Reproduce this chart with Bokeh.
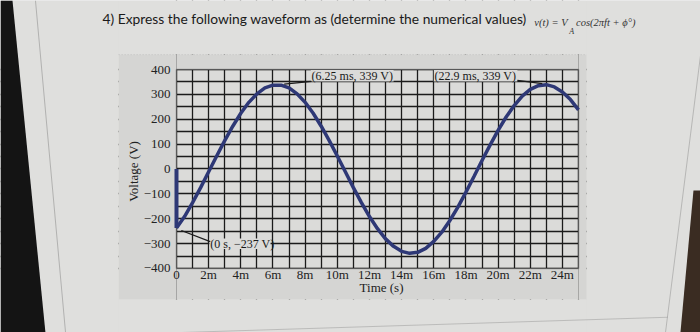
from bokeh.plotting import figure
from bokeh.models import Range1d, FixedTicker, Label, BoxAnnotation, PolyAnnotation, LinearAxis
from bokeh.embed import file_html
from bokeh.resources import INLINE

# ---- data ----
time_ms = [0, 0.5, 1, 1.5, 2, 2.5, 3, 3.5, 4, 4.5, 5, 5.5, 6, 6.5, 7, 7.5, 8, 8.5,
           9, 9.5, 10, 10.5, 11, 11.5, 12, 12.5, 13, 13.5, 14, 14.5, 15, 15.5, 16,
           16.5, 17, 17.5, 18, 18.5, 19, 19.5, 20, 20.5, 21, 21.5, 22, 22.5, 23,
           23.5, 24, 24.5, 25]
voltage = [-237, -191, -135, -75, -11, 52, 114, 172, 224, 268, 302, 326, 337, 337,
           326, 302, 268, 224, 172, 114, 52, -11, -75, -135, -191, -240, -281, -311,
           -331, -339, -335, -319, -291, -254, -207, -153, -93, -30, 34, 96, 155,
           209, 255, 293, 320, 335, 339, 330, 310, 279, 238]

y_ticks = [-400, -300, -200, -100, 0, 100, 200, 300, 400]
y_tick_labels = ["\u2212400", "\u2212300", "\u2212200", "\u2212100", "0", "100", "200", "300", "400"]
x_ticks = [0, 2, 4, 6, 8, 10, 12, 14, 16, 18, 20, 22, 24]
x_tick_labels = ["0", "2m", "4m", "6m", "8m", "10m", "12m", "14m", "16m", "18m", "20m", "22m", "24m"]
x_grid = list(range(0, 26))
y_grid = list(range(-400, 401, 50))

callout_texts = ["(6.25 ms, 339 V)", "(22.9 ms, 339 V)", "(0 s, \u2212237 V)"]
title_text = "4) Express the following waveform as (determine the numerical values)"

X0, X1 = 0, 25        # chart extent (ms)
Y0, Y1 = -400, 400    # chart extent (V)
XS, XE, YS, YE = -10.945, 32.587, -657.3, 677.4

# The whole canvas is the plotting frame; the chart occupies a sub-rectangle of it.
p = figure(width=700, height=332, x_range=Range1d(XS, XE), y_range=Range1d(YS, YE),
           output_backend="svg", toolbar_location=None, title=None,
           x_axis_location=None, y_axis_location=None,
           min_border_left=0, min_border_right=0, min_border_top=0, min_border_bottom=0)
p.outline_line_color = None

PAGE = "#dfdfdd"
PANEL = "#d5d5d3"
FRAME = "#dbdbd9"
p.border_fill_color = PAGE
p.background_fill_color = FRAME

# grid (library grid; lines outside the chart get covered below)
p.xgrid.ticker = FixedTicker(ticks=x_grid)
p.ygrid.ticker = FixedTicker(ticks=y_grid)
for g in (p.xgrid, p.ygrid):
    g.grid_line_color = "#1b1b1b"
    g.grid_line_width = 1.3
    g.grid_line_alpha = 1

def box(l, r, b, t, color, **kw):
    p.add_layout(BoxAnnotation(left=l, right=r, bottom=b, top=t, fill_color=color, fill_alpha=1,
                               line_color=None, level="underlay", **kw))

PL, PR, PB, PT = -3.6, 25.5, -525, 460   # figure panel of the photographed page
# panel ring around the chart
box(PL, X0, PB, PT, PANEL)
box(X1, PR, PB, PT, PANEL)
box(X0, X1, Y1, PT, PANEL)
box(X0, X1, PB, Y0, PANEL)
# page outside the panel
box(None, PL, None, None, PAGE)
box(PR, None, None, None, PAGE)
box(PL, PR, PT, None, PAGE)
box(PL, PR, None, PB, PAGE)
# dotted top edge of the panel
p.add_layout(PolyAnnotation(xs=[PL, PR], ys=[PT, PT], fill_alpha=0, line_color="#8f8f8f",
                            line_width=1, line_dash="1 2", level="underlay"))
# photo edges: dark strip on the left, thin page border lines, dark corner on the right
p.add_layout(PolyAnnotation(xs=[XS, -10.2, -8.15, XS], ys=[YE, YE, YS, YS],
                            fill_color="#141414", fill_alpha=1, line_color=None, level="underlay"))
p.add_layout(PolyAnnotation(xs=[-8.77, -6.90], ys=[YE, YS], fill_alpha=0,
                            line_color="#4a4a4a", line_width=1, level="underlay"))
p.add_layout(PolyAnnotation(xs=[33.02, 30.41], ys=[YE, YS], fill_alpha=0,
                            line_color="#5a5a5a", line_width=1, level="underlay"))
p.add_layout(PolyAnnotation(xs=[-6.90, 30.54], ys=[-672, -596], fill_alpha=0,
                            line_color="#6a6a6a", line_width=1, level="underlay"))
p.add_layout(PolyAnnotation(xs=[32.15, XE, XE, 31.34], ys=[-86, -86, YS, YS],
                            fill_color="#3a2c22", fill_alpha=1, line_color=None, level="underlay"))

# chart outline
p.add_layout(BoxAnnotation(left=X0, right=X1, bottom=Y0, top=Y1, fill_alpha=0,
                           line_color="#111111", line_width=1.6, level="underlay"))

# callout masks
for (l, r, b, t) in [(8.35, 13.5, 352, 398), (16.0, 21.2, 352, 398), (2.05, 5.85, -322, -279)]:
    box(l, r, b, t, FRAME)

# axes placed at the chart edges
yax = LinearAxis(fixed_location=X0, ticker=FixedTicker(ticks=y_ticks),
                 major_label_overrides=dict(zip(y_ticks, y_tick_labels)))
xax = LinearAxis(fixed_location=Y0, ticker=FixedTicker(ticks=x_ticks),
                 major_label_overrides=dict(zip(x_ticks, x_tick_labels)))
for ax in (xax, yax):
    ax.axis_line_color = None
    ax.major_tick_line_color = None
    ax.minor_tick_line_color = None
    ax.major_tick_out = 0
    ax.major_tick_in = 0
    ax.major_label_text_font = "Liberation Serif"
    ax.major_label_text_font_size = "13px"
    ax.major_label_text_color = "#222222"
yax.major_label_standoff = 6
xax.major_label_standoff = -1
p.add_layout(yax, "left")
p.add_layout(xax, "below")

# curve
p.segment(x0=time_ms[0], y0=0, x1=time_ms[0], y1=voltage[0], line_color="#2e3876", line_width=4)
p.line(time_ms, voltage, line_color="#2e3876", line_width=3.5)

# leader lines and callout texts
p.segment(x0=[6.7, 21.2, 0.3], y0=[341, 356, -247], x1=[8.4, 22.75, 2.1], y1=[352, 343, -292],
          line_color="#1b1b1b", line_width=1.2)
for (tx, ty), s in zip([(8.4, 374), (16.05, 374), (2.1, -300)], callout_texts):
    p.add_layout(Label(x=tx, y=ty, text=s, text_font="Liberation Serif", text_font_size="12px",
                       text_baseline="middle", text_align="left", text_color="#1a1a1a"))

# axis titles
p.add_layout(Label(x=-2.67, y=-10, text="Voltage (V)", angle=1.5708, text_font="Liberation Serif",
                   text_font_size="13px", text_baseline="middle", text_align="center",
                   text_color="#222222"))
p.add_layout(Label(x=12.75, y=-478, text="Time (s)", text_font="Liberation Serif",
                   text_font_size="13px", text_baseline="middle", text_align="center",
                   text_color="#222222"))

# heading and formula
p.add_layout(Label(x=-4.6, y=607, text=title_text, text_font="Lato", text_font_size="13.8px",
                   text_baseline="middle", text_align="left", text_color="#1a1a1a"))
p.add_layout(Label(x=22.25, y=589, text="v(t) = V", text_font="Liberation Serif",
                   text_font_style="italic", text_font_size="10.5px", text_baseline="middle",
                   text_align="left", text_color="#333333"))
p.add_layout(Label(x=24.43, y=553, text="A", text_font="Liberation Serif",
                   text_font_style="italic", text_font_size="8px", text_baseline="middle",
                   text_align="left", text_color="#333333"))
p.add_layout(Label(x=24.85, y=589, text="cos(2\u03c0ft + \u03d5\u00b0)", text_font="Liberation Serif",
                   text_font_style="italic", text_font_size="10.5px", text_baseline="middle",
                   text_align="left", text_color="#333333"))

open("out.html", "w").write(file_html(p, INLINE))
